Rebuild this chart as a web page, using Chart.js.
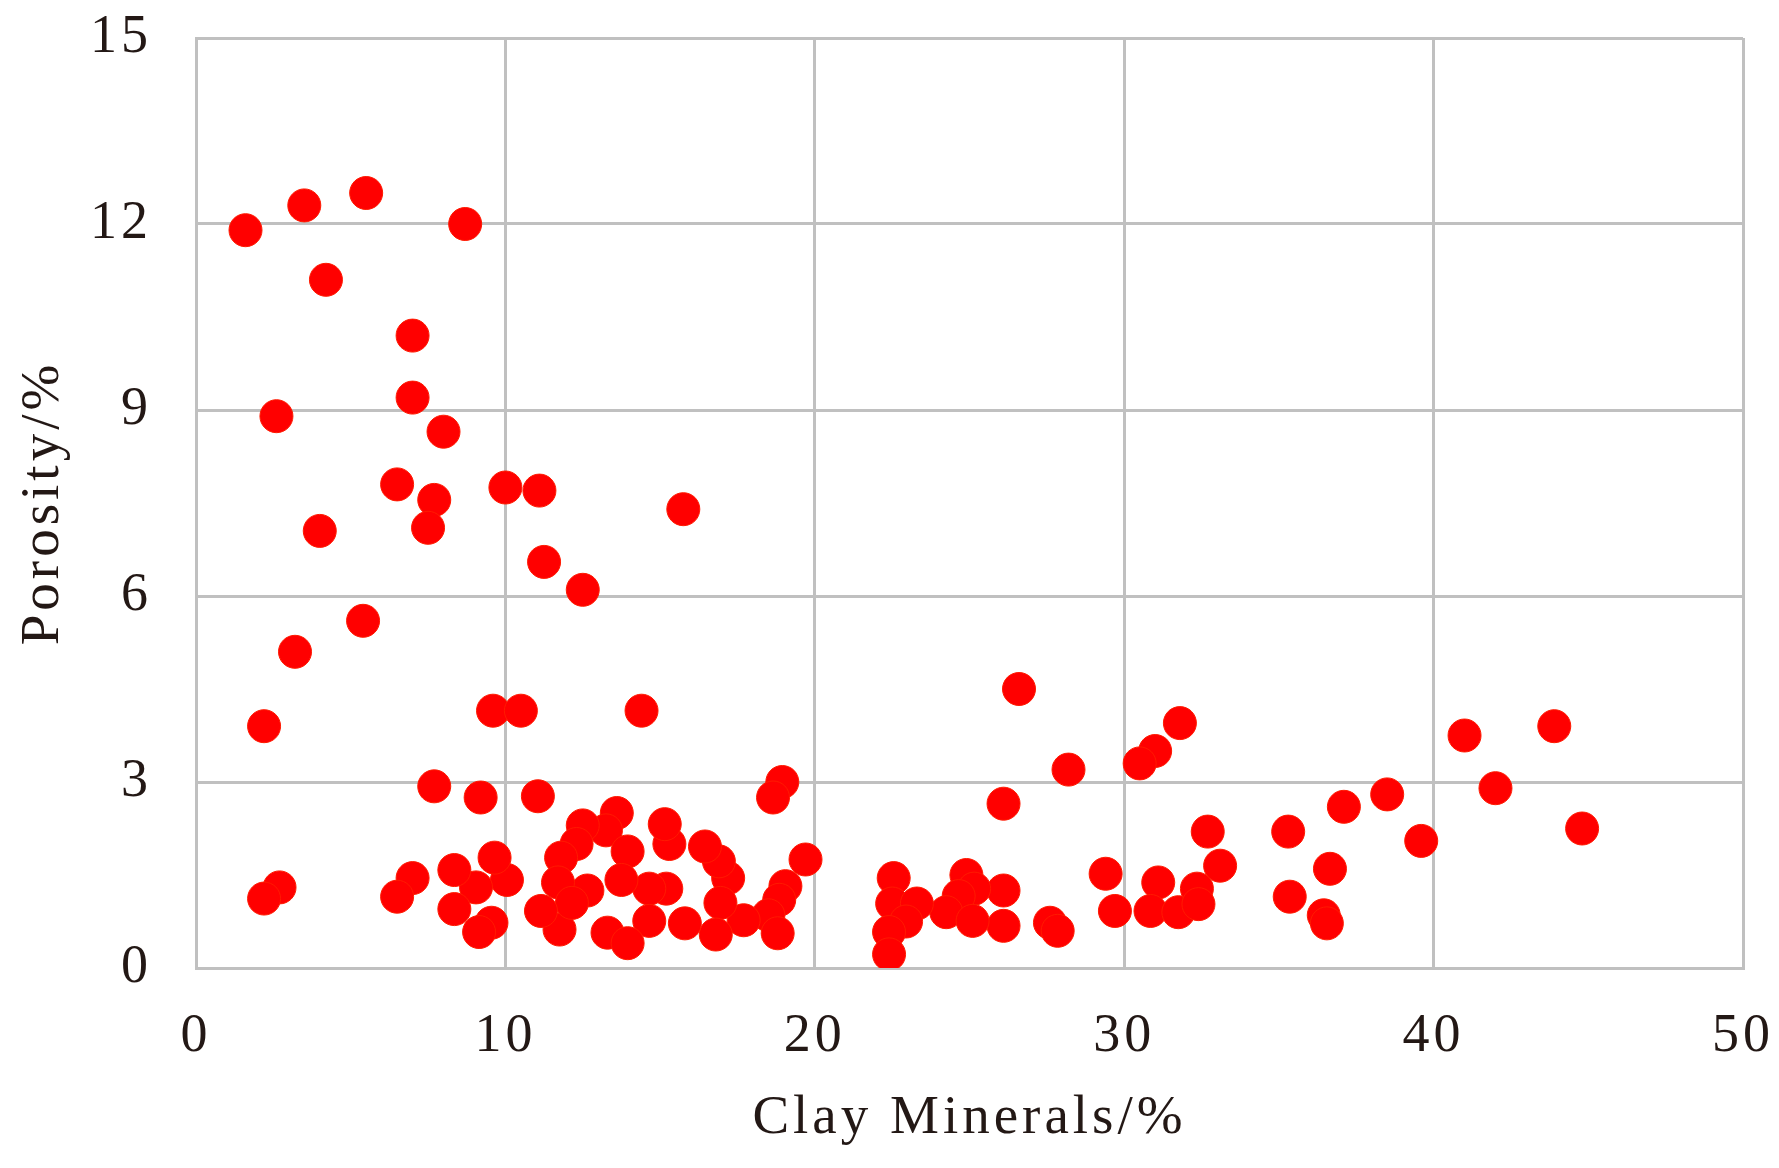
<!DOCTYPE html>
<html>
<head>
<meta charset="utf-8">
<script src="https://cdn.jsdelivr.net/npm/chart.js@4/dist/chart.umd.min.js"></script>
<style>
  html, body { margin: 0; padding: 0; background: #fff; }
  canvas { display: block; }
</style>
</head>
<body>
<canvas id="chart" width="1779" height="1168"></canvas>
<script>
// Clay minerals (%) and porosity (%), one entry per sample
var clayMinerals = [
  1.6, 3.5, 5.5, 8.7, 4.2, 7.0, 7.0, 2.6, 8.0, 6.5,
  7.7, 7.5, 4.0, 10.0, 11.1, 15.75, 11.25, 12.5, 5.4, 3.2,
  2.2, 9.6, 10.5, 14.4, 26.6, 31.8, 31.0, 30.5, 28.2, 41.0,
  43.9, 42.0, 38.5, 37.1, 39.6, 44.8, 35.3, 32.7, 33.1, 36.65,
  35.35, 36.45, 36.55, 26.1, 26.1, 26.1, 29.4, 29.7, 31.1, 30.85,
  31.75, 32.35, 32.4, 27.6, 27.85, 24.9, 25.15, 24.65, 24.25, 25.1,
  22.55, 22.5, 23.3, 22.95, 22.4, 22.4, 18.95, 18.65, 19.7, 19.05,
  18.85, 18.5, 18.8, 17.7, 17.2, 16.9, 16.45, 16.95, 16.8, 15.8,
  15.3, 15.15, 15.2, 14.65, 14.65, 13.6, 13.25, 13.95, 13.75, 13.3,
  13.95, 12.65, 12.5, 12.3, 11.8, 11.7, 11.75, 12.15, 11.15, 11.05,
  10.05, 9.65, 9.55, 9.15, 9.05, 9.2, 8.35, 8.35, 7.7, 7.0,
  6.5, 2.7, 2.2
];
var porosity = [
  11.9, 12.3, 12.5, 12.0, 11.1, 10.2, 9.2, 8.9, 8.65, 7.8,
  7.55, 7.1, 7.05, 7.75, 7.7, 7.4, 6.55, 6.1, 5.6, 5.1,
  3.9, 4.15, 4.15, 4.15, 4.5, 3.95, 3.5, 3.3, 3.2, 3.75,
  3.9, 2.9, 2.8, 2.6, 2.05, 2.25, 2.2, 2.2, 1.65, 1.6,
  1.15, 0.85, 0.72, 2.65, 1.25, 0.68, 1.52, 0.92, 1.38, 0.92,
  0.9, 1.28, 1.03, 0.73, 0.6, 1.5, 1.28, 1.16, 0.9, 0.76,
  1.45, 1.04, 1.04, 0.75, 0.58, 0.22, 3.0, 2.75, 1.75, 1.32,
  1.1, 0.85, 0.56, 0.77, 1.45, 1.72, 1.96, 1.05, 0.54, 0.72,
  2.0, 2.32, 1.28, 1.28, 0.76, 2.5, 2.22, 1.88, 1.42, 0.57,
  0.4, 1.25, 2.3, 2.0, 1.78, 1.38, 0.62, 1.05, 0.92, 2.77,
  1.42, 1.78, 0.73, 0.58, 1.3, 2.75, 1.58, 0.95, 2.93, 1.45,
  1.15, 1.3, 1.12
];
var xTicks = [0, 10, 20, 30, 40, 50];
var yTicks = [0, 3, 6, 9, 12, 15];

var points = clayMinerals.map(function (x, i) {
  return { x: x, y: porosity[i] };
});

var gridGrey = '#c0c0c0';
var textColor = '#231815';
var serif = "'Liberation Serif', 'Times New Roman', serif";

// the figure's labels are set a little loose
var spacing = {
  id: 'spacing',
  beforeDraw: function (chart) {
    chart.ctx.letterSpacing = '4px';
  }
};

new Chart(document.getElementById('chart'), {
  type: 'scatter',
  data: {
    datasets: [{
      data: points,
      backgroundColor: '#ff0000',
      borderColor: '#ff1a00',
      borderWidth: 1,
      pointRadius: 16.5,
      pointHoverRadius: 16.5
    }]
  },
  options: {
    responsive: false,
    animation: false,
    devicePixelRatio: 1,
    layout: { padding: { top: 38, right: 36, bottom: 0, left: 0 } },
    plugins: {
      legend: { display: false },
      tooltip: { enabled: false }
    },
    scales: {
      x: {
        type: 'linear',
        min: 0,
        max: 50,
        afterBuildTicks: function (scale) {
          scale.ticks = xTicks.map(function (v) { return { value: v }; });
        },
        afterFit: function (scale) {
          scale.height = 200;
          scale.paddingLeft = 0;
          scale.paddingRight = 0;
        },
        grid: { color: gridGrey, lineWidth: 3, drawTicks: false },
        border: { color: gridGrey, width: 3 },
        ticks: {
          padding: 42,
          color: textColor,
          maxRotation: 0,
          font: { family: serif, size: 54, lineHeight: 1 }
        },
        title: {
          display: true,
          text: 'Clay Minerals/%',
          color: textColor,
          padding: { top: 0, bottom: 22 },
          font: { family: serif, size: 55, lineHeight: 1 }
        }
      },
      y: {
        type: 'linear',
        min: 0,
        max: 15,
        afterBuildTicks: function (scale) {
          scale.ticks = yTicks.map(function (v) { return { value: v }; });
        },
        afterFit: function (scale) {
          scale.width = 196;
          scale.paddingTop = 0;
          scale.paddingBottom = 0;
        },
        grid: { color: gridGrey, lineWidth: 3, drawTicks: false },
        border: { color: gridGrey, width: 3 },
        ticks: {
          padding: 44,
          color: textColor,
          font: { family: serif, size: 54, lineHeight: 1 }
        },
        title: {
          display: true,
          text: 'Porosity/%',
          color: textColor,
          padding: { top: 16, bottom: 0 },
          font: { family: serif, size: 55, lineHeight: 1 }
        }
      }
    }
  },
  plugins: [spacing]
});
</script>
</body>
</html>
